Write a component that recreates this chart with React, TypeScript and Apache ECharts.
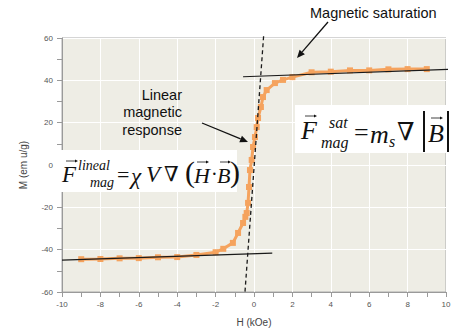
import React, { useEffect, useRef } from "react";
import * as echarts from "echarts";

const hValues = [-9, -8, -7, -6, -5, -4, -3, -2, -1.6, -1.1, -0.83, -0.57, -0.45, -0.38, -0.31, -0.26, -0.21, -0.12, -0.05, 0.05, 0.14, 0.21, 0.36, 0.47, 0.66, 1.09, 1.51, 2, 3, 4, 5, 6, 7, 8, 9];
const mValues = [-44.5, -44.4, -44.1, -44.0, -43.6, -43.5, -42.5, -41.2, -39.6, -36.8, -32.1, -27.4, -24.5, -22.7, -17.9, -10.4, -2.4, 2.4, 8.5, 13.2, 17.9, 22.2, 27.4, 32.1, 35.4, 38.7, 40.2, 41.5, 43.8, 44.1, 44.7, 44.7, 45.2, 45.3, 45.3];

const lowerFitH = [-10, 0.95];
const lowerFitM = [-44.9, -41.6];
const upperFitH = [-0.57, 10.2];
const upperFitM = [41.7, 45.2];
const dashedH = [0.5, -0.47];
const dashedM = [60.8, -60];

const xTicks = { min: -10, max: 10, interval: 2 };
const yTicks = { min: -60, max: 60, interval: 20 };

const ORANGE = "#F5A35E";
const SERIF = "'Liberation Serif', 'DejaVu Serif', serif";
const SANS = "'Liberation Sans', Arial, sans-serif";

function arrow(x1: number, y1: number, x2: number, y2: number, len = 8, half = 3.5, w = 1.3) {
  const dx = x2 - x1, dy = y2 - y1;
  const L = Math.sqrt(dx * dx + dy * dy);
  const ux = dx / L, uy = dy / L;
  const bx = x2 - ux * len, by = y2 - uy * len;
  const px = -uy * half, py = ux * half;
  return [
    { type: "line", z: 120, shape: { x1, y1, x2: bx, y2: by }, style: { stroke: "#111", lineWidth: w } },
    { type: "polygon", z: 120, shape: { points: [[x2, y2], [bx + px, by + py], [bx - px, by - py]] }, style: { fill: "#111" } },
  ];
}

function vec(x1: number, x2: number, y: number) {
  return arrow(x1, y, x2, y, 3, 1.6, 0.8);
}

function txt(text: string, x: number, y: number, size: number, italic = true, family = SERIF, align = "left") {
  return {
    type: "text",
    z: 110,
    style: {
      text,
      x,
      y,
      font: `${italic ? "italic " : ""}${size}px ${family}`,
      fill: "#111",
      align,
      verticalAlign: "middle",
    },
  };
}

export default function App() {
  const ref = useRef<HTMLDivElement>(null);
  useEffect(() => {
    if (!ref.current) return;
    const chart = echarts.init(ref.current, undefined, { renderer: "svg" });
    const pair = (hs: number[], ms: number[]) => hs.map((h, i) => [h, ms[i]]);
    const axisCommon = {
      type: "value",
      axisLine: { show: true, onZero: false, lineStyle: { color: "#9a9a9a", width: 1 } },
      axisTick: { show: true, length: 5, lineStyle: { color: "#9a9a9a" } },
      minorTick: { show: true, splitNumber: 2, length: 5, lineStyle: { color: "#9a9a9a" } },
      minorSplitLine: { show: false },
      splitLine: { show: true, lineStyle: { color: "#ffffff", width: 1 } },
      axisLabel: { fontSize: 8, color: "#555", fontFamily: SANS },
      nameLocation: "middle",
      nameTextStyle: { fontSize: 10, color: "#444", fontFamily: SANS },
    };
    const graphic: any[] = [
      { type: "rect", z: 100, shape: { x: 57, y: 150, width: 180, height: 42 }, style: { fill: "#ffffff" } },
      { type: "rect", z: 100, shape: { x: 295, y: 105, width: 152, height: 48 }, style: { fill: "#ffffff" } },
      // lineal formula
      txt("F", 62, 174, 23),
      ...vec(66, 78, 161),
      txt("lineal", 78, 165, 14),
      txt("mag", 90, 182, 14),
      txt("=", 117, 174, 22, false),
      txt("χ", 131, 176, 23),
      txt("V", 146, 174, 23),
      txt("∇", 164, 174, 21, false),
      txt("(", 185, 171, 30, false),
      txt("H", 194, 175, 22),
      ...vec(197, 209, 162),
      txt("·", 211, 174, 20, false),
      txt("B", 217, 175, 22),
      ...vec(220, 231, 162),
      txt(")", 230, 171, 30, false),
      // sat formula
      txt("F", 301, 130, 26),
      ...vec(305, 317, 116),
      txt("sat", 329, 122, 16),
      txt("mag", 321, 142, 16),
      txt("=", 354, 132, 26, false),
      txt("m", 370, 134, 26),
      txt("s", 389, 141, 16),
      txt("∇", 397, 131, 25, false),
      { type: "line", z: 120, shape: { x1: 424, y1: 111, x2: 424, y2: 152 }, style: { stroke: "#111", lineWidth: 2 } },
      txt("B", 428, 133, 26),
      ...vec(431, 443, 118),
      { type: "line", z: 120, shape: { x1: 448, y1: 111, x2: 448, y2: 152 }, style: { stroke: "#111", lineWidth: 2 } },
      // annotations
      txt("Magnetic saturation", 310, 13, 14.5, false, SANS),
      ...arrow(328, 22, 297, 58),
      txt("Linear", 182, 95, 14.5, false, SANS, "right"),
      txt("magnetic", 182, 112, 14.5, false, SANS, "right"),
      txt("response", 182, 130, 14.5, false, SANS, "right"),
      ...arrow(202, 123, 248, 142),
    ];
    chart.setOption({
      animation: false,
      grid: {
        left: 62,
        right: 28,
        top: 38,
        bottom: 44,
        show: true,
        backgroundColor: "#EEEDE5",
        borderColor: "#ababab",
        borderWidth: 1,
      },
      xAxis: {
        ...axisCommon,
        min: xTicks.min,
        max: xTicks.max,
        interval: xTicks.interval,
        name: "H (kOe)",
        nameGap: 25,
        axisLabel: { ...axisCommon.axisLabel, margin: 8 },
      },
      yAxis: {
        ...axisCommon,
        min: yTicks.min,
        max: yTicks.max,
        interval: yTicks.interval,
        name: "M (em u/g)",
        nameGap: 34,
        nameRotate: 90,
        axisLabel: { ...axisCommon.axisLabel, margin: 9 },
      },
      series: [
        {
          type: "line",
          data: pair(hValues, mValues),
          symbol: "rect",
          symbolSize: 6,
          showSymbol: true,
          lineStyle: { color: ORANGE, width: 3 },
          itemStyle: { color: ORANGE },
          z: 2,
        },
        {
          type: "line",
          data: pair(lowerFitH, lowerFitM),
          symbol: "none",
          clip: false,
          lineStyle: { color: "#1a1a1a", width: 1.2 },
          z: 3,
        },
        {
          type: "line",
          data: pair(upperFitH, upperFitM),
          symbol: "none",
          clip: false,
          lineStyle: { color: "#1a1a1a", width: 1.2 },
          z: 3,
        },
        {
          type: "line",
          data: pair(dashedH, dashedM),
          symbol: "none",
          clip: false,
          lineStyle: { color: "#1a1a1a", width: 1.3, type: [4, 3] },
          z: 3,
        },
      ],
      graphic,
    });
    return () => chart.dispose();
  }, []);
  return <div ref={ref} style={{ position: "fixed", left: 0, top: 0, width: 474, height: 336, background: "#fff" }} />;
}
